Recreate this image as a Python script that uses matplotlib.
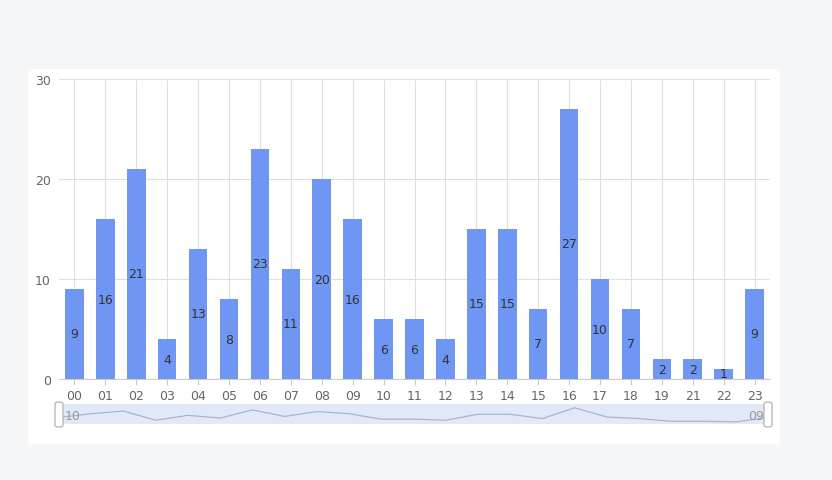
import numpy as np, matplotlib.pyplot as plt
from matplotlib.patches import Rectangle, FancyBboxPatch

hours = ['00', '01', '02', '03', '04', '05', '06', '07', '08', '09', '10', '11',
         '12', '13', '14', '15', '16', '17', '18', '19', '21', '22', '23']
counts = [9, 16, 21, 4, 13, 8, 23, 11, 20, 16, 6, 6, 4, 15, 15, 7, 27, 10, 7, 2, 2, 1, 9]

W, H = 832, 481
fig = plt.figure(figsize=(W / 100, H / 100), dpi=100)
fig.patch.set_facecolor('#f5f6f8')
fig.patches.append(Rectangle((28 / W, 1 - 445 / H), 752 / W, 375 / H, transform=fig.transFigure,
                             facecolor='white', edgecolor='none', zorder=-10))

ax = fig.add_axes([59 / W, 1 - 380 / H, 711 / W, 300 / H])
ax.set_facecolor('none')
x = np.arange(len(hours))
bars = ax.bar(x, counts, width=0.6, color='#6e96f2', zorder=3)
for xi, v in zip(x, counts):
    ax.text(xi, v / 2, str(v), ha='center', va='center', fontsize=9, color='#333333', zorder=4)
ax.set_xlim(-0.5, len(hours) - 0.5)
ax.set_ylim(0, 30)
ax.set_yticks([0, 10, 20, 30])
ax.set_xticks(x)
ax.set_xticklabels(hours)
ax.grid(True, color='#e0e0e0', linewidth=0.8, zorder=0)
for s in ['top', 'right', 'left']:
    ax.spines[s].set_visible(False)
ax.spines['bottom'].set_color('#cccccc')
ax.tick_params(axis='y', length=0, labelsize=9, labelcolor='#666666', pad=6)
ax.tick_params(axis='x', length=4, color='#cccccc', labelsize=9, labelcolor='#666666')

sl = fig.add_axes([59 / W, 1 - 425 / H, 709 / W, 20 / H])
sl.set_facecolor('#e1e8f8')
sl.plot(x, counts, color='#a9b4cc', linewidth=0.9)
sl.set_xlim(0, len(hours) - 1)
sl.set_ylim(-3, 34)
sl.set_xticks([]); sl.set_yticks([])
for s in sl.spines.values():
    s.set_visible(False)
for hx, lab, ha, dx in [(59, '10', 'left', 6), (768, '09', 'right', -4)]:
    fig.patches.append(FancyBboxPatch(((hx - 4) / W, 1 - 428 / H), 8 / W, 25 / H,
                                      boxstyle='round,pad=0,rounding_size=0.004',
                                      transform=fig.transFigure, facecolor='white',
                                      edgecolor='#aaaaaa', linewidth=0.8, zorder=5))
    fig.text((hx + dx) / W, 1 - 416 / H, lab, ha=ha, va='center', fontsize=9, color='#999999', zorder=6)

plt.savefig('out.png', dpi=100, facecolor=fig.get_facecolor())
